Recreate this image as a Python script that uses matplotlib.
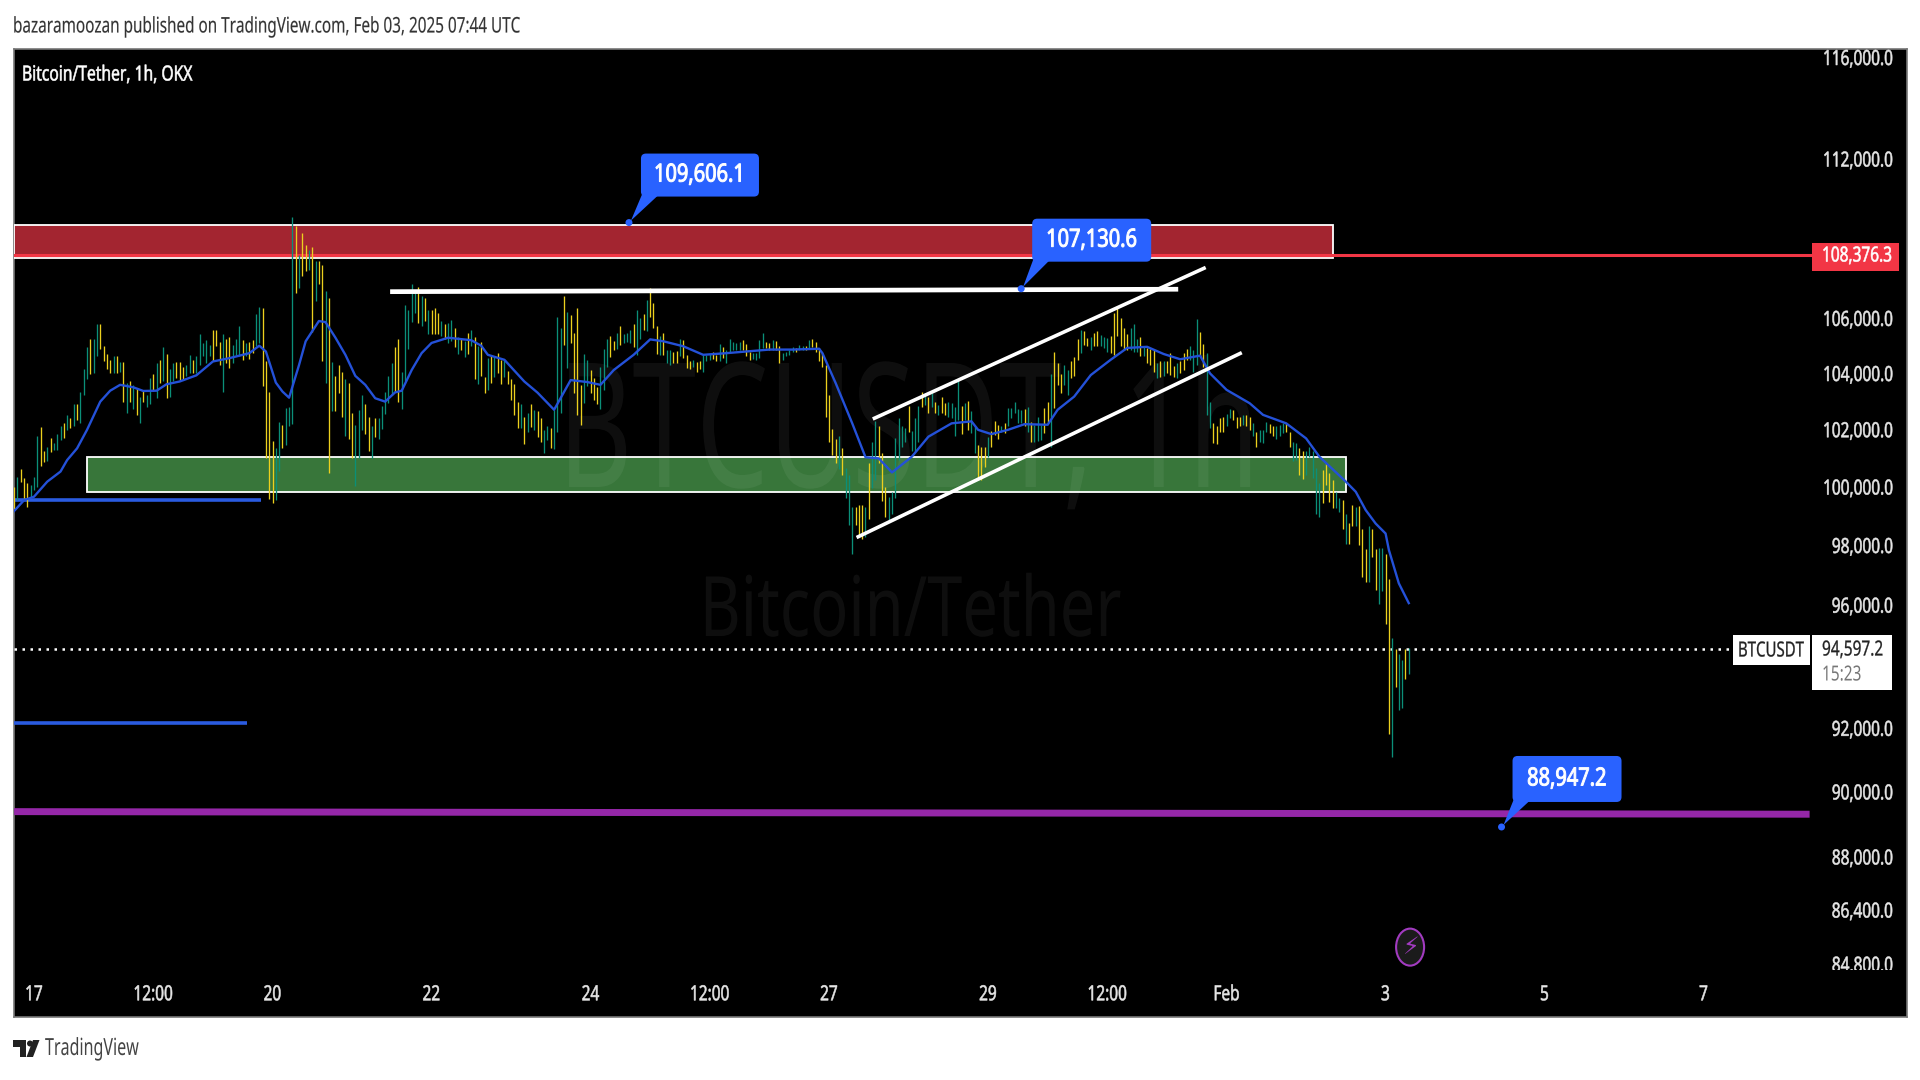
import numpy as np, matplotlib
matplotlib.use("Agg"); import matplotlib.pyplot as plt
from matplotlib.patches import Rectangle, FancyBboxPatch, Polygon, Ellipse, Circle
from matplotlib.patheffects import AbstractPathEffect
from matplotlib.transforms import Affine2D, IdentityTransform

# bars are hourly, hour 0 = Jan 17 00:00
first_hour = -6
bar_high = [
 100040,100390,100650,100330,100160,100100,100390,101820,102120,101270,
 101440,101760,101580,101890,102180,102260,102560,102440,102950,102950,
 103380,104200,104980,105290,105290,105820,105820,105040,104740,104530,
 104650,104650,104440,104440,103710,103770,103630,103510,103210,103420,
 103250,103890,104020,104400,104530,104980,104740,104200,104400,104440,
 104440,104280,104340,104710,104530,104650,105450,105140,105230,105080,
 105630,105630,105170,105450,105300,105360,105080,105290,105750,105240,
 105140,105170,105240,106210,106460,106400,104470,103380,101640,101380,
 102300,102210,102800,102830,109800,109480,108390,109200,108770,108580,
 108680,108170,108170,108020,107040,106790,104440,103950,104340,104080,
 103840,103710,102620,102210,102740,103250,102950,102500,102150,102440,
 102440,102880,103390,103930,104400,104980,105290,104080,106520,106360,
 107310,106980,107190,106850,106770,106360,106340,106400,106220,105940,
 105820,105880,105960,105690,105350,105270,105200,105510,105630,105350,
 105020,105170,103920,104590,104710,104650,104770,104530,104530,104140,
 103830,103650,103010,102940,102500,102620,102950,102740,102680,102440,
 102030,102180,102110,102740,106080,105690,106850,106280,106160,105510,
 106400,103630,104740,104530,104160,103870,103540,104280,104920,105300,
 105390,105200,105510,105750,105450,105510,105630,105820,106340,106060,
 106210,106730,107140,106610,105750,105390,105510,104900,104900,104830,
 104860,105300,105240,104710,104470,104530,104440,104470,104710,104710,
 104740,104830,104710,105110,104980,104900,105290,105180,105140,105170,
 105240,105110,104830,104770,104770,105230,105490,105170,105140,105240,
 105200,105020,104770,104830,104900,104980,104960,105080,105020,105020,
 105240,105270,105170,104960,104770,104340,103270,102060,101700,101820,
 101380,100680,100450,99350,99350,99430,99410,99350,100860,101620,
 102330,102150,101210,100040,99700,99870,101760,102440,102150,102110,
 102890,101990,102440,102890,103390,103330,103210,103330,103000,102910,
 103210,102970,103000,102970,102850,103830,102890,102970,103070,102700,
 102150,101500,101440,101440,101790,101990,102330,102210,102180,102260,
 102820,102820,103010,102770,102740,102760,102830,102290,102210,102500,
 102210,102800,103010,104020,104800,104400,104020,104340,104160,104490,
 104620,105300,105630,105570,105330,105360,105510,105570,105420,105360,
 105330,105390,106240,106460,106040,105690,105450,105690,105820,105270,
 105360,105020,104960,104930,104900,104400,104470,104470,104470,104770,
 104320,104400,104470,104770,104920,105020,104900,106030,105550,105110,
 104770,103010,102260,102150,102440,102500,102590,102760,102740,102500,
 102500,102560,102560,102500,102260,101970,102030,102030,102300,102240,
 102150,102150,102210,102260,102260,101970,101620,101580,101380,101270,
 101270,101440,101270,100680,100160,100620,100860,100510,100280,99870,
 99670,99600,99120,98810,99410,99350,99370,98580,97910,98690,
 98580,97910,97960,97960,97740,96900,94960,94600,94440,94230,
 94600,94620]
bar_low = [
 99240,99580,100220,99640,99330,99700,99930,100040,100780,100890,
 100950,101240,101320,101320,101680,101730,102030,102090,102150,102380,
 102260,103270,103830,104020,104040,104650,104920,104470,104200,104040,
 104040,104040,104100,103010,102640,103030,102760,102560,102260,103010,
 102830,102950,103420,103150,103710,103750,103150,103210,103750,103870,
 103750,103800,103950,104040,104040,104040,104340,104650,104430,104650,
 104470,105020,104340,103390,104400,104220,104400,104710,104650,104530,
 104650,104550,104770,105020,105140,103590,101030,99620,99490,99600,
 100600,101380,101500,102150,102240,106980,107160,107590,107780,107840,
 105550,106670,107310,104470,103710,100530,102710,102710,103330,102500,
 101820,101700,101030,100070,101030,102030,101890,101270,101030,101770,
 101700,102060,102590,102970,103270,103390,103010,102760,103750,104930,
 105900,106240,105880,105750,105930,105470,105470,105450,105450,105390,
 105300,105140,105200,104980,104740,104900,104620,104740,105020,103830,
 103650,103940,103330,103450,103710,103920,104060,103650,103920,103650,
 103090,102560,102090,102090,101520,101970,102120,102030,101790,101590,
 101210,101680,101380,101350,101970,102640,105050,104220,105140,103330,
 102560,102210,102970,103570,103330,103090,102950,102760,103450,104280,
 104620,104900,104930,105050,105140,105170,105140,104980,104710,105270,
 105630,105570,106100,105690,104740,104710,104710,104400,104340,104400,
 104400,104650,104590,104220,104200,104280,104080,104200,104100,104470,
 104530,104550,104470,104470,104590,104400,104770,104900,104900,104880,
 104900,104650,104530,104550,104530,104590,104960,104960,104900,104900,
 104880,104400,104530,104650,104710,104830,104800,104900,104880,104880,
 104960,104980,104830,104470,104280,102500,101590,101150,100860,100650,
 100450,99670,98730,97760,98730,98390,98240,98310,98950,99990,
 100280,100860,99560,99010,98840,99120,99640,100970,101440,101620,
 101940,101270,101270,101620,102850,102910,102640,102850,102620,102540,
 102620,102560,102470,102440,101830,102380,101890,102380,102030,101910,
 101210,100280,100280,100740,101090,101440,101850,101710,101940,101910,
 102150,102440,102620,102260,102260,102150,101970,101620,101620,101650,
 101680,101910,102260,101440,102800,103630,103330,103610,103270,103870,
 103950,104530,104770,105050,105020,104900,105020,105020,105020,104960,
 104830,104770,104710,105390,105020,104900,104900,104900,104830,104830,
 104650,104650,104400,104340,104100,103890,103920,103950,104040,103980,
 103920,103870,104060,104160,104530,104530,104080,104340,104650,104280,
 102560,102090,101580,101520,101970,101950,102150,102440,102380,102110,
 102150,102210,102180,102030,101830,101410,101590,101580,101940,101910,
 101820,101710,101830,101910,101970,101440,100950,100970,100450,100310,
 100450,101090,100360,99120,99010,99470,100100,99520,99300,99300,
 99180,98580,98100,98100,98700,98700,98040,96970,96800,96800,
 97630,96550,96080,96500,95400,91840,91120,93360,92630,92690,
 93610,93770]
# 1 = teal bar, 0 = yellow bar
bar_up = [
 0,1,0,0,0,1,1,1,0,0, 1,0,1,1,1,0,1,0,1,0, 1,1,1,0,1,1,0,0,0,0, 1,0,1,0,1,0,1,0,1,0,
 1,1,0,1,0,1,0,1,1,0, 0,0,1,1,0,1,1,1,1,1, 0,0,0,1,0,0,1,1,1,0, 1,0,0,1,1,0,0,0,0,1,
 1,0,1,1,1,0,1,0,0,1, 0,1,0,0,1,0,1,0,0,0, 1,0,0,1,1,1,0,0,1,0, 1,1,1,1,1,0,0,1,1,1,
 1,1,0,1,0,1,0,0,0,1, 0,1,1,0,1,0,1,0,1,0, 1,0,0,1,0,1,0,0,1,0, 0,0,0,1,0,1,0,1,0,0,
 1,1,0,1,1,1,0,1,0,0, 0,0,1,1,0,0,0,1,1,1, 0,0,1,0,1,1,1,0,1,1, 0,1,0,0,0,1,0,1,1,0,
 0,1,0,0,0,1,0,0,1,1, 1,0,0,1,0,1,1,1,1,1, 0,0,0,1,1,1,1,0,0,1, 0,0,1,1,1,1,0,1,1,0,
 1,0,0,0,0,0,0,0,0,1, 0,1,1,1,0,0,0,1,0,1, 1,0,0,0,1,1,1,1,1,1, 0,1,1,1,0,1,0,1,0,1,
 0,0,1,1,1,1,0,1,0,1, 1,0,0,0,1,0,0,0,1,0, 1,1,1,1,1,0,1,0,1,1, 1,0,0,1,0,0,0,1,1,0,
 0,0,1,0,0,1,0,0,1,1, 1,0,0,0,0,0,0,1,1,1, 0,1,0,0,0,1,0,1,0,0, 0,1,0,0,0,1,1,1,0,0,
 1,1,0,0,0,0,1,1,0,0, 0,1,0,0,1,0,1,1,1,0, 0,1,1,1,0,0,1,1,0,0, 1,1,1,1,1,0,0,0,0,1,
 1,0,1,0,0,1,0,0,0,1, 0,0,1,1,0,0,1,0,1,1, 0,1,0,0,1,1,1,0,0,1, 0,0,1,0,0,0,1,1,0,1,
 0,1]

ema_hours = [-6,-3,0,4,8,10,13,16,20,23,26,30,33,37,40,44,49,54,59,65,68,70,73,75,77,80,82,86,88,91,
 94,97,100,103,106,109,111,114,117,120,125,132,135,137,142,148,152,157,162,167,171,175,181,186,190,196,202,209,215,222,
 229,237,238,242,247,251,255,259,265,270,277,283,285,289,294,299,306,309,314,319,325,330,336,341,346,352,355,360,367,371,
 378,384,388,396,399,402,405,408,409,412,415]
ema_price = [99210,99580,99700,100220,100570,100970,101380,102030,103030,103420,103630,103540,103410,103420,103650,103750,103970,104470,104590,104770,105040,104830,103710,103390,103170,104340,105200,105940,105900,105330,
 104710,103950,103630,103150,103030,103360,103420,104160,104770,105140,105330,105240,105040,104710,104530,103750,103350,102740,103800,103730,103630,104160,104710,105270,105200,105020,104710,104770,104830,104900,
 104900,104930,104770,103690,102260,101070,101030,100540,101090,101790,102260,102330,102030,101880,102030,102230,102210,102740,103210,103980,104530,104960,105000,104740,104550,104680,104040,103450,102970,102560,
 102260,101730,101090,100220,99870,99240,98780,98440,97880,96760,96100]

y_ticks = [116000,112000,106000,104000,102000,100000,98000,96000,92000,90000,88000,86400,84800]
x_tick_hours = [0,36,72,120,168,204,240,288,324,360,408,456,504]
x_tick_labels = ["17","12:00","20","22","24","12:00","27","29","12:00","Feb","3","5","7"]

last_price = 94597.2
red_level = 108376.3
red_zone = (108270,109515,-6,392)
green_zone = (99870,101060,16,396)
blue_seg1 = (99590,-6,68.4)
blue_seg2 = (92200,-6,64.3)
purple_line = ([-6,536],[89420,89340])
flat_line = ([107.5,345.4],[107020,107110])
chan_up = ([253.7,353.2],[102440,107890])
chan_lo = ([248.8,364.1],[98330,104760])
callout_text = ["109,606.1","107,130.6","88,947.2"]
callout_hour = [179.6,298,443]
callout_price = [109606.1,107130.6,88947.2]
# box extents in px from the tip: left, right, bottom, top
callout_box = [(12,130,26,69),(11,130,27,70),(11,120,25,71)]

W,H = 1920,1080
BLUE="#2962ff"; TEAL="#0b8f78"; YEL="#ecd01e"; RED="#f23645"; PURP="#9527a8"
plt.rcParams["font.family"] = ["Noto Sans","Liberation Sans","DejaVu Sans"]
fig = plt.figure(figsize=(W/100,H/100),dpi=100,facecolor="white")

# the reference font is much narrower than anything installed, squeeze the glyphs
# stroke thickens them a little, dy nudges them up in px
class Narrow(AbstractPathEffect):
    def __init__(self,sx,anchor="left",stroke=0,dy=0):
        super().__init__(); self.sx=sx; self.anchor=anchor; self.stroke=stroke; self.dy=dy
    def draw_path(self,renderer,gc,tpath,affine,rgbFace=None):
        xs=tpath.vertices[:,0]
        a={"left":0,"center":(xs.min()+xs.max())/2,"right":xs.max()}[self.anchor]
        t=Affine2D().translate(-a,0).scale(self.sx,1).translate(a,0)+affine+Affine2D().translate(0,self.dy)
        gc0=renderer.new_gc(); gc0.copy_properties(gc)
        if self.stroke:
            gc0.set_linewidth(self.stroke); gc0.set_foreground(rgbFace)
        renderer.draw_path(gc0,tpath,t,rgbFace)
        gc0.restore()

def box(x0,y0,x1,y1):
    return [x0/W,1-y1/H,(x1-x0)/W,(y1-y0)/H]
def px(x,y):
    return (x/W,1-y/H)

panel = fig.add_axes(box(14,49,1907,1017),facecolor="black")
panel.set_xticks([]); panel.set_yticks([])
for s in panel.spines.values(): s.set_color("#777777"); s.set_linewidth(1.2)

ax = fig.add_axes(box(14,49,1907,970),facecolor="none")
ax.set_yscale("log")
ax.set_xlim(-6.04,565.4); ax.set_ylim(84658,116381)
for s in ax.spines.values(): s.set_visible(False)

# faint watermarks
ax.text(*px(911,487),"BTCUSDT, 1h",transform=fig.transFigure,ha="center",va="baseline",fontsize=125,color="white",alpha=0.06,zorder=2.5,
        path_effects=[Narrow(0.66,"center")])
ax.text(*px(911,636),"Bitcoin/Tether",transform=fig.transFigure,ha="center",va="baseline",fontsize=60,color="white",alpha=0.06,zorder=2.5,
        path_effects=[Narrow(0.758,"center")])

# zones
lo,hi,x0,x1 = red_zone
ax.add_patch(Rectangle((x0,lo),x1-x0,hi-lo,fc="#a32530",ec="white",lw=1.3,zorder=2))
ax.plot([x0,x1+144],[red_level,red_level],color=RED,lw=2.2,zorder=2.2)
lo,hi,x0,x1 = green_zone
ax.add_patch(Rectangle((x0,lo),x1-x0,hi-lo,fc="#38763a",ec="white",lw=1.3,zorder=2))

# level lines
ax.plot([-6.04,536],[last_price,last_price],color="white",lw=1.8,ls=(0,(1,2.2)),zorder=3)
ax.plot(blue_seg1[1:],[blue_seg1[0]]*2,color="#2a5be0",lw=2.6,zorder=3,solid_capstyle="butt")
ax.plot(blue_seg2[1:],[blue_seg2[0]]*2,color="#2a5be0",lw=2.6,zorder=3,solid_capstyle="butt")
ax.plot(*purple_line,color=PURP,lw=5,zorder=3,solid_capstyle="butt")

# bars
hrs = first_hour+np.arange(len(bar_high))
cols = [TEAL if u else YEL for u in bar_up]
ax.vlines(hrs,bar_low,bar_high,colors=cols,lw=0.95,zorder=4)
ax.plot(ema_hours,ema_price,color="#2451d8",lw=1.7,zorder=5)

# hand drawn lines
ax.plot(*flat_line,color="white",lw=3.4,zorder=6,solid_capstyle="butt")
ax.plot(*chan_up,color="white",lw=2.6,zorder=6)
ax.plot(*chan_lo,color="white",lw=2.6,zorder=6)

# callouts, sized in px from the tip
pixels = IdentityTransform()
for txt,h,p,(l,r,b,t) in zip(callout_text,callout_hour,callout_price,callout_box):
    tx,ty = ax.transData.transform((h,p))
    ax.add_patch(FancyBboxPatch((tx+l,ty+b),r-l,t-b,boxstyle="round,pad=0,rounding_size=5",fc=BLUE,ec="none",transform=pixels,zorder=8))
    ax.add_patch(Polygon([(tx+l+1,ty+b+2),(tx+l+18,ty+b+2),(tx+2,ty+2)],fc=BLUE,ec="none",transform=pixels,zorder=8))
    ax.add_patch(Circle((tx,ty),3.5,fc=BLUE,ec="none",transform=pixels,zorder=8))
    ax.text(tx+(l+r)/2,ty+(b+t)/2,txt,transform=pixels,color="white",fontsize=18,ha="center",va="center",zorder=9,
            path_effects=[Narrow(0.8,"center",stroke=0.7)])

# session break icon
tx,ty = ax.transData.transform((415.4,85330))
ax.add_patch(Ellipse((tx,ty),28,37,fc="#1b1b1b",ec="#a23bc0",lw=1.5,transform=pixels,zorder=7))
ax.text(tx,ty,"\u26a1",transform=pixels,color="#a23bc0",fontsize=17,ha="center",va="center",zorder=7,family="DejaVu Sans")

# axes ticks
ax.yaxis.tick_right()
ax.set_yticks(y_ticks); ax.set_yticks([],minor=True)
ax.set_yticklabels([f"{v:,.1f}" for v in y_ticks],fontsize=15,color="#e6e6e6",ha="right")
ax.tick_params(axis="y",length=0,pad=-10,which="both")
for t in ax.get_yticklabels():
    t.set_clip_on(True); t.set_clip_box(ax.bbox); t.set_path_effects([Narrow(0.74,"right",stroke=0.4,dy=1.5)])
ax.set_xticks(x_tick_hours,x_tick_labels,fontsize=15,color="#e6e6e6")
ax.tick_params(axis="x",length=0,pad=11)
for t in ax.get_xticklabels():
    t.set_path_effects([Narrow(0.74,"center",stroke=0.4,dy=1)])

# price labels on the scale
fig.add_artist(Rectangle(px(1812,271),87/W,28/H,fc=RED,ec="none",transform=fig.transFigure))
fig.text(*px(1822,256),"108,376.3",color="white",fontsize=15,va="center",path_effects=[Narrow(0.74,stroke=0.4)])
fig.add_artist(Rectangle(px(1733,665),77/W,30/H,fc="white",ec="none",transform=fig.transFigure))
fig.add_artist(Rectangle(px(1812,690),80/W,55/H,fc="white",ec="none",transform=fig.transFigure))
fig.text(*px(1771,651),"BTCUSDT",color="#222222",fontsize=15,va="center",ha="center",path_effects=[Narrow(0.72,"center",stroke=0.2)])
fig.text(*px(1822,650),"94,597.2",color="#222222",fontsize=15,va="center",path_effects=[Narrow(0.74,stroke=0.2)])
fig.text(*px(1822,675),"15:23",color="#777777",fontsize=15,va="center",path_effects=[Narrow(0.74)])

fig.text(*px(22,75),"Bitcoin/Tether, 1h, OKX",color="white",fontsize=15,va="center",path_effects=[Narrow(0.75,stroke=0.4)])
fig.text(*px(13,27),"bazaramoozan published on TradingView.com, Feb 03, 2025 07:44 UTC",color="#333333",fontsize=15.5,va="center",path_effects=[Narrow(0.71,stroke=0.1)])

# TradingView logo
for pts in [[(13,1040),(26,1040),(26,1057),(19.5,1057),(19.5,1047),(13,1047)],[(33,1040),(39.5,1040),(33,1057),(26.5,1057)]]:
    fig.add_artist(Polygon([px(*q) for q in pts],fc="#222222",ec="none",transform=fig.transFigure))
fig.add_artist(Ellipse(px(30,1043.5),6/W,6/H,fc="#222222",ec="none",transform=fig.transFigure))
fig.text(*px(45,1049),"TradingView",color="#444444",fontsize=17,va="center",path_effects=[Narrow(0.68)])

fig.savefig("out.png",dpi=100)
